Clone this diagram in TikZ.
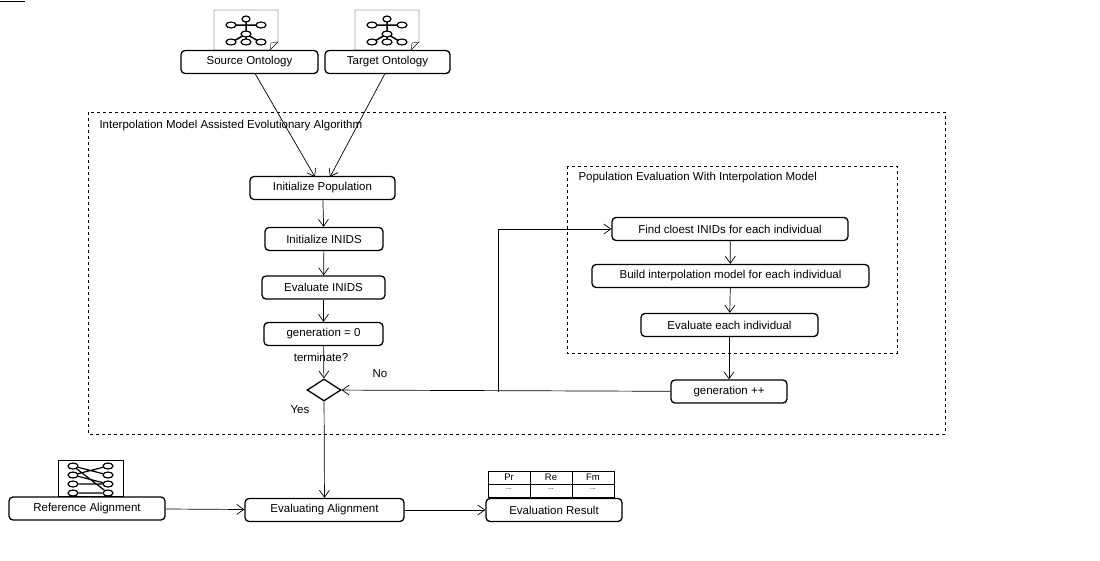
\documentclass[tikz,border=0pt]{standalone}
\usepackage{fontspec}
\setmainfont{Liberation Sans}
\usetikzlibrary{shapes.geometric,arrows.meta}
\begin{document}
\begin{tikzpicture}[x=1pt,y=-1pt,font=\fontsize{11.5}{13}\selectfont,
 box/.style={draw,line width=1.3pt,rounded corners=4pt,minimum height=23pt,inner sep=0pt},
 arr/.style={-{Straight Barb[length=7pt,width=10pt]},line width=0.7pt},
 dbox/.style={draw,dashed,line width=0.7pt},
 ov/.style={draw,line width=1.2pt,ellipse,minimum width=10pt,minimum height=6pt,inner sep=0pt,fill=white}]
\useasboundingbox (0,0) rectangle (1100,560);
\draw[thick] (0,1) -- (25,1);
% icons
\newcommand{\treeicon}[2]{%
 \begin{scope}[shift={(#1,#2)}]
 \draw[fill=white] (0,0) -- (64,0) -- (64,32) -- (56,40) -- (0,40) -- cycle;
 \draw (56,40) -- (57,33) -- (64,32);
 \draw[line width=1.5pt] (32,10) -- (32,24) (18,15) -- (46,15) (32,24) -- (18,32) (32,24) -- (46,32) (32,24) -- (32,32);
 \node[ov,minimum width=8pt] at (32,9) {};
 \node[ov] at (17,15) {}; \node[ov] at (47,15) {};
 \node[ov] at (32,24) {};
 \node[ov] at (17,32) {}; \node[ov] at (32,32) {}; \node[ov] at (47,32) {};
 \end{scope}}
\treeicon{214}{10}
\treeicon{355}{10}
% reference alignment icon
\draw (58,460) rectangle (123,496);
\foreach \y in {466,475,484,493}{\node[ov] (l\y) at (73,\y) {}; \node[ov] (r\y) at (108,\y) {};}
\draw[line width=1.2pt] (l466)--(r475) (l475)--(r466) (l466)--(r493) (l484)--(r484) (l493)--(r493) (l475)--(r484);
% nodes
\node[box,minimum width=137pt] (src) at (249.5,62) {Source Ontology};
\node[box,minimum width=125pt] (tgt) at (387.5,62) {Target Ontology};
\draw[dbox] (88,112) rectangle (945,434);
\node[anchor=west] at (96,126) {Interpolation Model Assisted Evolutionary Algorithm};
\node[box,minimum width=145pt] (ip) at (322.5,188) {Initialize Population};
\node[box,minimum width=118pt] (ii) at (324,239) {Initialize INIDS};
\node[box,minimum width=123pt] (ei) at (323.5,287.5) {Evaluate INIDS};
\node[box,minimum width=119pt] (g0) at (323.5,334) {generation = 0};
\node at (321,357) {terminate?};
\node[draw,line width=1.3pt,diamond,minimum width=34pt,minimum height=22pt,inner sep=0pt] (dm) at (324,390) {};
\node at (380,374) {No};
\node at (300,410) {Yes};
\draw[dbox] (567,166) rectangle (897,353);
\node[anchor=west] at (575,178) {Population Evaluation With Interpolation Model};
\node[box,minimum width=236pt] (fc) at (730,229) {Find cloest INIDs for each individual};
\node[box,minimum width=277pt] (bi) at (730.5,276) {Build interpolation model for each individual};
\node[box,minimum width=177pt] (ee) at (729.5,325) {Evaluate each individual};
\node[box,minimum width=116pt] (gp) at (729,391.5) {generation ++};
\node[box,minimum width=156pt] (ra) at (87,508.5) {Reference Alignment};
\node[box,minimum width=159pt] (ea) at (324.5,510) {Evaluating Alignment};
\node[box,minimum width=136pt] (er) at (554,510) {Evaluation Result};
% table
\draw (488,471) rectangle (614,497) (488,484) -- (614,484) (530,471) -- (530,497) (572,471) -- (572,497);
\foreach \x/\t in {509/Pr,551/Re,593/Fm}{\node[font=\fontsize{9.5}{10}\selectfont] at (\x,477.5) {\t}; \node[font=\scriptsize] at (\x,489) {...};}
% connectors
\coordinate (s1) at (255,73.5);
\coordinate (s2) at (315,177);
\coordinate (t1) at (385,73.5);
\coordinate (t2) at (330,177);
\draw[arr] (s1) -- (s2);
\draw[arr] (t1) -- (t2);
\draw[arr] (ip) -- (ii);
\draw[arr] (ii) -- (ei);
\draw[arr] (ei) -- (g0);
\draw[arr] (g0) -- (dm);
\draw[arr] (fc) -- (bi);
\draw[arr] (bi) -- (ee);
\draw[arr] (ee.south -| gp.north) -- (gp.north);
\draw[arr] (gp) -- (dm);
\coordinate (c1) at (498,391.5);
\draw[arr] (c1) |- (fc);
\draw[arr] (dm) -- (ea);
\draw[arr] (ra) -- (ea);
\draw[arr] (ea) -- (er);
\end{tikzpicture}
\end{document}
